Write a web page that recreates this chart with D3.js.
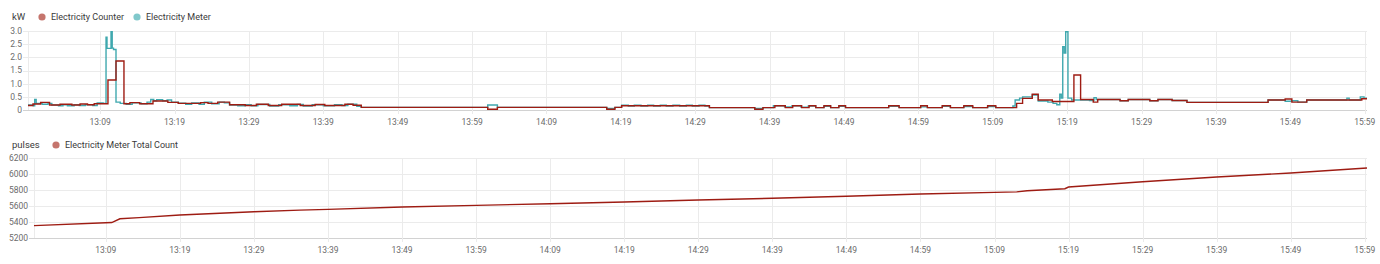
<!DOCTYPE html>
<html><head><meta charset="utf-8">
<script src="https://cdn.jsdelivr.net/npm/d3@7"></script>
<style>
html,body{margin:0;padding:0;background:#fff;}
svg{display:block;font-family:Roboto,"Noto Sans",sans-serif;}
</style></head><body>
<svg id="chart" width="1380" height="264"></svg>
<script>
// ---------- data (times are minutes after 13:00) ----------
const powerSeries = ["Electricity Counter", "Electricity Meter"];
const totalSeries = ["Electricity Meter Total Count"];
const powerUnit = "kW";
const totalUnit = "pulses";
const timeStart = "12:59:18";
const timeEnd = "15:59:18";
const xTickLabels = ["13:09","13:19","13:29","13:39","13:49","13:59","14:09","14:19","14:29","14:39","14:49","14:59","15:09","15:19","15:29","15:39","15:49","15:59"];
const powerTicks = [0, 0.5, 1, 1.5, 2, 2.5, 3];
const pulseTicks = [5200, 5400, 5600, 5800, 6000, 6200];

const counterMinutes = [-0.7,-0.03,1.0,2.2,3.6,5.2,6.3,7.3,8.2,10.05,11.13,12.2,13.0,14.3,16.1,18.1,19.5,22.5,23.5,24.8,26.4,28.5,30.0,31.6,33.4,35.9,37.9,39.2,41.9,43.0,44.1,61.1,62.4,77.1,78.2,79.1,90.9,97.0,98.1,99.7,101.1,102.1,103.3,104.3,105.2,106.3,107.2,108.3,109.2,115.0,116.4,119.3,120.2,122.2,123.3,125.1,126.3,128.3,129.4,132.2,133.0,134.3,135.1,137.0,139.9,140.8,142.5,143.1,146.1,147.2,150.1,151.2,153.1,155.1,166.0,168.3,169.2,171.2,178.6,179.3];
const counterKW = [0.17,0.23,0.29,0.19,0.22,0.19,0.23,0.2,0.24,1.14,1.86,0.24,0.28,0.24,0.34,0.29,0.25,0.28,0.25,0.3,0.2,0.17,0.22,0.17,0.22,0.17,0.21,0.17,0.22,0.18,0.1,0.03,0.1,0.03,0.1,0.16,0.09,0.03,0.09,0.16,0.09,0.16,0.09,0.16,0.09,0.16,0.09,0.16,0.09,0.16,0.09,0.16,0.09,0.16,0.09,0.16,0.09,0.16,0.09,0.25,0.44,0.6,0.38,0.32,1.33,0.4,0.3,0.4,0.35,0.4,0.35,0.4,0.36,0.29,0.38,0.42,0.3,0.38,0.43,0.43];

const meterMinutes = [-0.7,0.0,0.2,0.4,1.2,2.0,2.5,3.4,4.0,4.6,5.5,6.2,7.0,8.0,8.6,9.4,9.79,9.92,10.46,10.62,10.8,11.13,11.7,12.5,13.3,14.5,15.3,15.8,16.2,16.6,17.4,18.0,18.6,19.5,20.5,21.3,22.3,23.0,24.0,25.0,25.7,26.4,27.5,28.5,29.3,30.2,31.8,33.0,34.5,35.5,36.3,37.5,39.0,40.5,41.5,42.3,43.5,44.1,61.1,62.4,77.1,78.2,79.1,80.0,80.8,81.7,82.6,83.4,84.3,85.1,86.0,86.9,87.8,88.6,89.5,90.3,90.9,97.0,98.1,99.5,101.0,102.0,103.2,104.2,105.2,106.3,107.2,108.3,109.2,115.0,116.4,119.3,120.2,122.2,123.3,125.1,126.3,128.3,129.4,131.7,132.0,132.6,133.0,134.3,135.1,136.4,137.1,137.6,138.0,138.2,138.4,138.6,138.8,139.1,139.6,142.0,142.6,142.9,146.1,147.2,150.1,151.2,153.1,155.1,166.0,168.3,169.2,170.0,171.2,176.6,176.9,178.4,178.9,179.3];
const meterKW = [0.19,0.16,0.4,0.25,0.22,0.25,0.19,0.16,0.2,0.16,0.2,0.17,0.2,0.17,0.27,0.25,2.76,2.34,2.97,2.35,2.3,0.3,0.25,0.22,0.27,0.24,0.3,0.4,0.35,0.39,0.35,0.38,0.3,0.26,0.22,0.27,0.22,0.3,0.24,0.3,0.27,0.19,0.16,0.2,0.16,0.21,0.15,0.2,0.16,0.21,0.15,0.2,0.16,0.2,0.17,0.22,0.14,0.1,0.19,0.1,0.06,0.1,0.18,0.15,0.18,0.15,0.18,0.15,0.18,0.15,0.18,0.15,0.18,0.15,0.18,0.15,0.09,0.06,0.09,0.16,0.12,0.16,0.11,0.15,0.09,0.14,0.09,0.14,0.09,0.14,0.09,0.12,0.09,0.14,0.09,0.13,0.09,0.13,0.09,0.15,0.38,0.45,0.5,0.57,0.34,0.3,0.25,0.2,0.6,0.45,2.4,2.16,2.97,0.45,0.38,0.36,0.47,0.4,0.35,0.4,0.35,0.4,0.36,0.29,0.38,0.33,0.35,0.3,0.38,0.45,0.38,0.5,0.45,0.45];

const totalMinutes = [-0.7,9.8,10.9,13.5,19,29,35.2,39,49,59,69,79,89,99,109,119,129,132,133.4,138.5,139,149,159,169,179.3];
const totalPulses = [5355,5393,5440,5455,5487,5529,5548,5558,5587,5608,5629,5650,5675,5696,5721,5750,5770,5776,5790,5816,5837,5904,5962,6012,6075];

// ---------- helpers ----------
const base = new Date(2020, 0, 1, 13, 0, 0);
const atMin = m => new Date(base.getTime() + m * 60000);
const parseClock = s => { const p = s.split(":").map(Number); return new Date(2020,0,1,p[0],p[1],p[2]||0); };
const zip = (ts, vs) => ts.map((t, i) => ({t: atMin(t), v: vs[i]}));

const COL = {
  counterLine: "#9e1c13", counterDot: "#c5756d",
  meterLine: "#3fa8ae", meterDot: "#80c8cb",
  grid: "#ebebeb", zero: "#d2d2d2", tick: "#6b6b6b", text: "#3a3a3a"
};

const svg = d3.select("#chart");
const domainX = [parseClock(timeStart), parseClock(timeEnd)];
const xTicks = xTickLabels.map(s => parseClock(s));

function panel(cfg) {
  const x = d3.scaleTime().domain(domainX).range([cfg.left, cfg.right]);
  const y = d3.scaleLinear().domain(cfg.yDomain).range([cfg.bottom, cfg.top]);
  const g = svg.append("g");

  g.append("g").selectAll("line").data(cfg.yTicks).join("line")
    .attr("x1", cfg.left - 5).attr("x2", cfg.right)
    .attr("y1", d => Math.round(y(d)) + 0.5).attr("y2", d => Math.round(y(d)) + 0.5)
    .attr("stroke", (d, i) => i === 0 ? COL.zero : COL.grid).attr("stroke-width", 1);
  g.append("line").attr("x1", cfg.left + 0.5).attr("x2", cfg.left + 0.5)
    .attr("y1", cfg.top).attr("y2", cfg.bottom).attr("stroke", COL.grid);
  g.append("g").selectAll("line").data(xTicks).join("line")
    .attr("x1", d => Math.round(x(d)) + 0.5).attr("x2", d => Math.round(x(d)) + 0.5)
    .attr("y1", cfg.top).attr("y2", cfg.bottom + 4)
    .attr("stroke", COL.grid);

  g.append("g").selectAll("text").data(cfg.yTicks).join("text")
    .attr("x", cfg.left - 6).attr("y", d => y(d)).attr("dy", "0.35em")
    .attr("text-anchor", "end").attr("font-size", 8.5).attr("fill", COL.tick)
    .text(cfg.yFormat);
  g.append("g").selectAll("text").data(xTicks).join("text")
    .attr("x", d => x(d)).attr("y", cfg.bottom + 12).attr("dy", "0.35em")
    .attr("text-anchor", "middle").attr("font-size", 8.5).attr("fill", COL.tick)
    .text(d => d3.timeFormat("%H:%M")(d));

  g.append("text").attr("x", 12).attr("y", cfg.legendY).attr("dy", "0.35em")
    .attr("font-size", 9.5).attr("fill", COL.text).text(cfg.unit);
  let lx = cfg.legendX;
  cfg.legend.forEach(it => {
    g.append("circle").attr("cx", lx).attr("cy", cfg.legendY).attr("r", 3.6).attr("fill", it.color);
    const t = g.append("text").attr("x", lx + 9).attr("y", cfg.legendY).attr("dy", "0.35em")
      .attr("font-size", 9).attr("fill", COL.text).text(it.name);
    lx += 9 + t.node().getComputedTextLength() + 13;
  });

  cfg.series.forEach(s => {
    const line = d3.line().x(d => x(d.t)).y(d => y(d.v)).curve(s.curve);
    g.append("path").datum(s.data).attr("d", line)
      .attr("fill", "none").attr("stroke", s.color).attr("stroke-width", 1.4)
      .attr("stroke-linejoin", "miter");
  });
}

panel({
  left: 28, right: 1367, top: 31, bottom: 110,
  yDomain: [0, 3], yTicks: powerTicks,
  yFormat: d => d === 0 ? "0" : d3.format(".1f")(d),
  unit: powerUnit, legendY: 17, legendX: 42,
  legend: [{name: powerSeries[0], color: COL.counterDot}, {name: powerSeries[1], color: COL.meterDot}],
  series: [
    {data: zip(meterMinutes, meterKW), color: COL.meterLine, curve: d3.curveStepAfter},
    {data: zip(counterMinutes, counterKW), color: COL.counterLine, curve: d3.curveStepAfter}
  ]
});

panel({
  left: 34, right: 1367, top: 158, bottom: 238,
  yDomain: [5200, 6200], yTicks: pulseTicks,
  yFormat: d3.format("d"),
  unit: totalUnit, legendY: 145, legendX: 56,
  legend: [{name: totalSeries[0], color: COL.counterDot}],
  series: [
    {data: zip(totalMinutes, totalPulses), color: COL.counterLine, curve: d3.curveLinear}
  ]
});
</script>
</body></html>
